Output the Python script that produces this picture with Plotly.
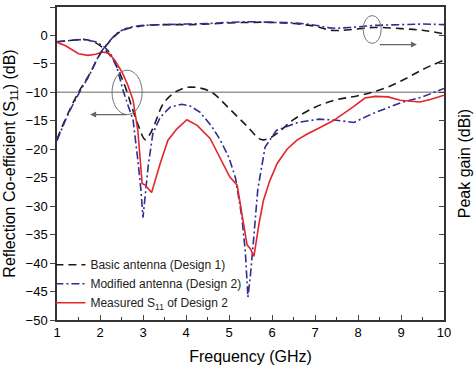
import plotly.graph_objects as go

# ---- S11 data (dB) ----
f_basic = [1.0, 1.3, 1.65, 1.9, 2.1, 2.3, 2.45, 2.6, 2.75, 2.9, 3.05, 3.15, 3.26, 3.47, 3.7, 3.9, 4.05, 4.3, 4.6,
           5.0, 5.4, 5.75, 5.95, 6.2, 6.5, 7.0, 7.5, 8.0, 8.5, 9.0, 9.5, 10.0]
s11_basic = [-1.1, -0.9, -0.7, -1.3, -2.4, -4.2, -6.5, -9.3, -12.8, -16.0, -18.3, -17.5, -15.8, -12.0, -10.2, -9.4, -9.1,
             -9.2, -10.0, -12.8, -15.8, -18.3, -18.0, -16.7, -14.8, -12.6, -11.3, -10.6, -9.6, -8.0, -6.0, -4.3]

f_mod = [1.0, 1.3, 1.6, 1.9, 2.1, 2.25, 2.4, 2.55, 2.77, 2.88, 2.95, 3.0, 3.06, 3.12, 3.23, 3.4, 3.63, 3.9, 4.1,
         4.33, 4.6, 4.8, 5.0, 5.15, 5.3, 5.38, 5.44, 5.5, 5.57, 5.67, 5.84, 6.1, 6.6, 7.1, 7.5, 7.9, 8.35, 9.0, 9.5, 10.0]
s11_mod = [-1.1, -0.9, -0.7, -1.1, -2.0, -3.2, -5.8, -10.0, -14.9, -21.9, -27.0, -32.0, -28.0, -23.0, -17.2, -14.4,
           -12.6, -12.1, -12.4, -13.5, -16.0, -18.4, -21.5, -25.0, -32.0, -38.0, -46.0, -42.0, -36.0, -27.0, -19.6,
           -16.7, -15.3, -14.7, -14.9, -15.3, -13.7, -11.8, -10.8, -9.3]

f_meas = [1.0, 1.2, 1.5, 1.72, 1.9, 2.05, 2.2, 2.35, 2.53, 2.65, 2.77, 2.88, 2.98, 3.05, 3.2, 3.4, 3.58, 3.79, 4.02,
          4.26, 4.56, 4.86, 5.02, 5.19, 5.3, 5.42, 5.5, 5.58, 5.7, 5.8, 5.95, 6.12, 6.35, 6.58, 6.8, 7.1, 7.42, 7.88,
          8.16, 8.4, 8.7, 8.98, 9.2, 9.44, 9.7, 10.0]
s11_meas = [-1.2, -1.8, -3.2, -3.5, -3.3, -2.9, -3.1, -4.4, -6.7, -8.8, -11.4, -16.7, -26.0, -26.3, -27.6, -22.5,
            -18.4, -16.4, -14.8, -15.8, -18.1, -22.5, -24.9, -26.3, -31.2, -36.8, -37.5, -38.8, -33.0, -29.0, -25.5,
            -22.5, -20.0, -18.4, -17.4, -16.3, -15.0, -12.6, -11.0, -10.7, -10.8, -11.4, -11.6, -11.7, -11.2, -10.5]

# ---- Peak gain data (right axis, read on the shared grid) ----
f_gain = [1.0, 1.25, 1.5, 1.75, 2.0, 2.2, 2.4, 2.6, 2.9, 3.1, 3.5, 4.0, 4.5, 5.0, 5.5, 6.0, 6.5, 7.0, 7.4, 7.8,
          8.35, 9.0, 9.5, 10.0]
gain_mod = [-18.5, -14.0, -10.3, -7.0, -3.2, -1.2, 0.4, 1.2, 1.7, 1.8, 1.9, 2.0, 2.1, 2.3, 2.4, 2.3, 2.2, 1.8, 1.3,
            1.4, 1.75, 1.9, 2.0, 1.9]
gain_basic = [-18.2, -13.8, -10.0, -6.9, -3.3, -1.3, 0.3, 1.1, 1.6, 1.8, 1.9, 1.9, 2.0, 2.2, 2.3, 2.3, 2.1, 1.6, 0.9,
              1.0, 1.4, 1.2, 0.9, 0.3]

x_ticks = list(range(1, 11))
y_ticks = list(range(-50, 6, 5))

BLACK = "#1a1a1a"
BLUE = "#2e2f8f"
RED = "#e3262c"
FONT = "Liberation Sans, Arial, sans-serif"

fig = go.Figure()

fig.add_trace(go.Scatter(x=f_basic, y=s11_basic, mode="lines", name="Basic antenna (Design 1)",
                         line=dict(color=BLACK, width=1.6, dash="8px,5px"), line_shape="spline"))
fig.add_trace(go.Scatter(x=f_mod, y=s11_mod, mode="lines", name="Modified antenna (Design 2)",
                         line=dict(color=BLUE, width=1.6, dash="8px,3px,2px,3px")))
fig.add_trace(go.Scatter(x=f_meas, y=s11_meas, mode="lines", name="Measured S<sub>11</sub> of Design 2",
                         line=dict(color=RED, width=1.6)))
fig.add_trace(go.Scatter(x=f_gain, y=gain_basic, mode="lines", yaxis="y2", showlegend=False,
                         line=dict(color=BLACK, width=1.6, dash="8px,5px"), line_shape="spline"))
fig.add_trace(go.Scatter(x=f_gain, y=gain_mod, mode="lines", yaxis="y2", showlegend=False,
                         line=dict(color=BLUE, width=1.6, dash="8px,3px,2px,3px"), line_shape="spline"))

# -10 dB reference line
fig.add_shape(type="line", xref="paper", x0=0, x1=1, yref="y", y0=-10, y1=-10,
              line=dict(color="#999999", width=1.5), layer="below")

# ellipses and arrows
fig.add_shape(type="circle", xref="x", yref="y", x0=2.28, x1=2.98, y0=-13.9, y1=-6.1,
              line=dict(color="#777777", width=1))
fig.add_shape(type="circle", xref="x", yref="y", x0=8.12, x1=8.54, y0=-1.4, y1=3.5,
              line=dict(color="#777777", width=1))
fig.add_annotation(x=1.77, y=-13.9, ax=2.65, ay=-13.9, xref="x", yref="y", axref="x", ayref="y",
                   showarrow=True, arrowhead=2, arrowsize=1, arrowwidth=1.2, arrowcolor="#666666", text="")
fig.add_annotation(x=9.37, y=-1.6, ax=8.47, ay=-1.6, xref="x", yref="y", axref="x", ayref="y",
                   showarrow=True, arrowhead=2, arrowsize=1, arrowwidth=1.2, arrowcolor="#666666", text="")

fig.update_layout(
    width=474, height=368,
    margin=dict(l=57, r=30, t=7, b=48, autoexpand=False),
    paper_bgcolor="white", plot_bgcolor="white",
    font=dict(family=FONT, size=13, color="black"),
    showlegend=True,
    legend=dict(x=-0.017, y=0.223, xanchor="left", yanchor="top", bgcolor="rgba(0,0,0,0)",
                font=dict(size=12, family=FONT, color="#222"), tracegroupgap=0),
    xaxis=dict(range=[1, 10], tickvals=x_ticks, ticks="inside", ticklen=5, tickwidth=1.2, automargin=False,
               showline=True, linecolor="#333", linewidth=1.5, mirror=True, showgrid=False, zeroline=False,
               minor=dict(dtick=0.5, ticks="inside", ticklen=3, tickwidth=1, tickcolor="#333"),
               title=dict(text="Frequency (GHz)", font=dict(size=16), standoff=11),
               tickfont=dict(size=13)),
    yaxis=dict(range=[-50, 5], tickvals=y_ticks, ticks="outside", ticklen=5, tickwidth=1.2, automargin=False,
               showline=True, linecolor="#333", linewidth=1.5, showgrid=False, zeroline=False,
               title=dict(text="Reflection Co-efficient (S<sub>11</sub>) (dB)", font=dict(size=16), standoff=6),
               tickfont=dict(size=13)),
    yaxis2=dict(range=[-50, 5], tickvals=y_ticks, overlaying="y", side="right", ticks="inside", ticklen=5,
                tickwidth=1.2, showticklabels=False, showline=True, linecolor="#333", linewidth=1.5,
                showgrid=False, zeroline=False, automargin=False,
                title=dict(text="Peak gain (dBi)", font=dict(size=16), standoff=14)),
)

fig.write_html("out.html", config={"displayModeBar": False},
               post_script="document.body.style.margin='0';")
